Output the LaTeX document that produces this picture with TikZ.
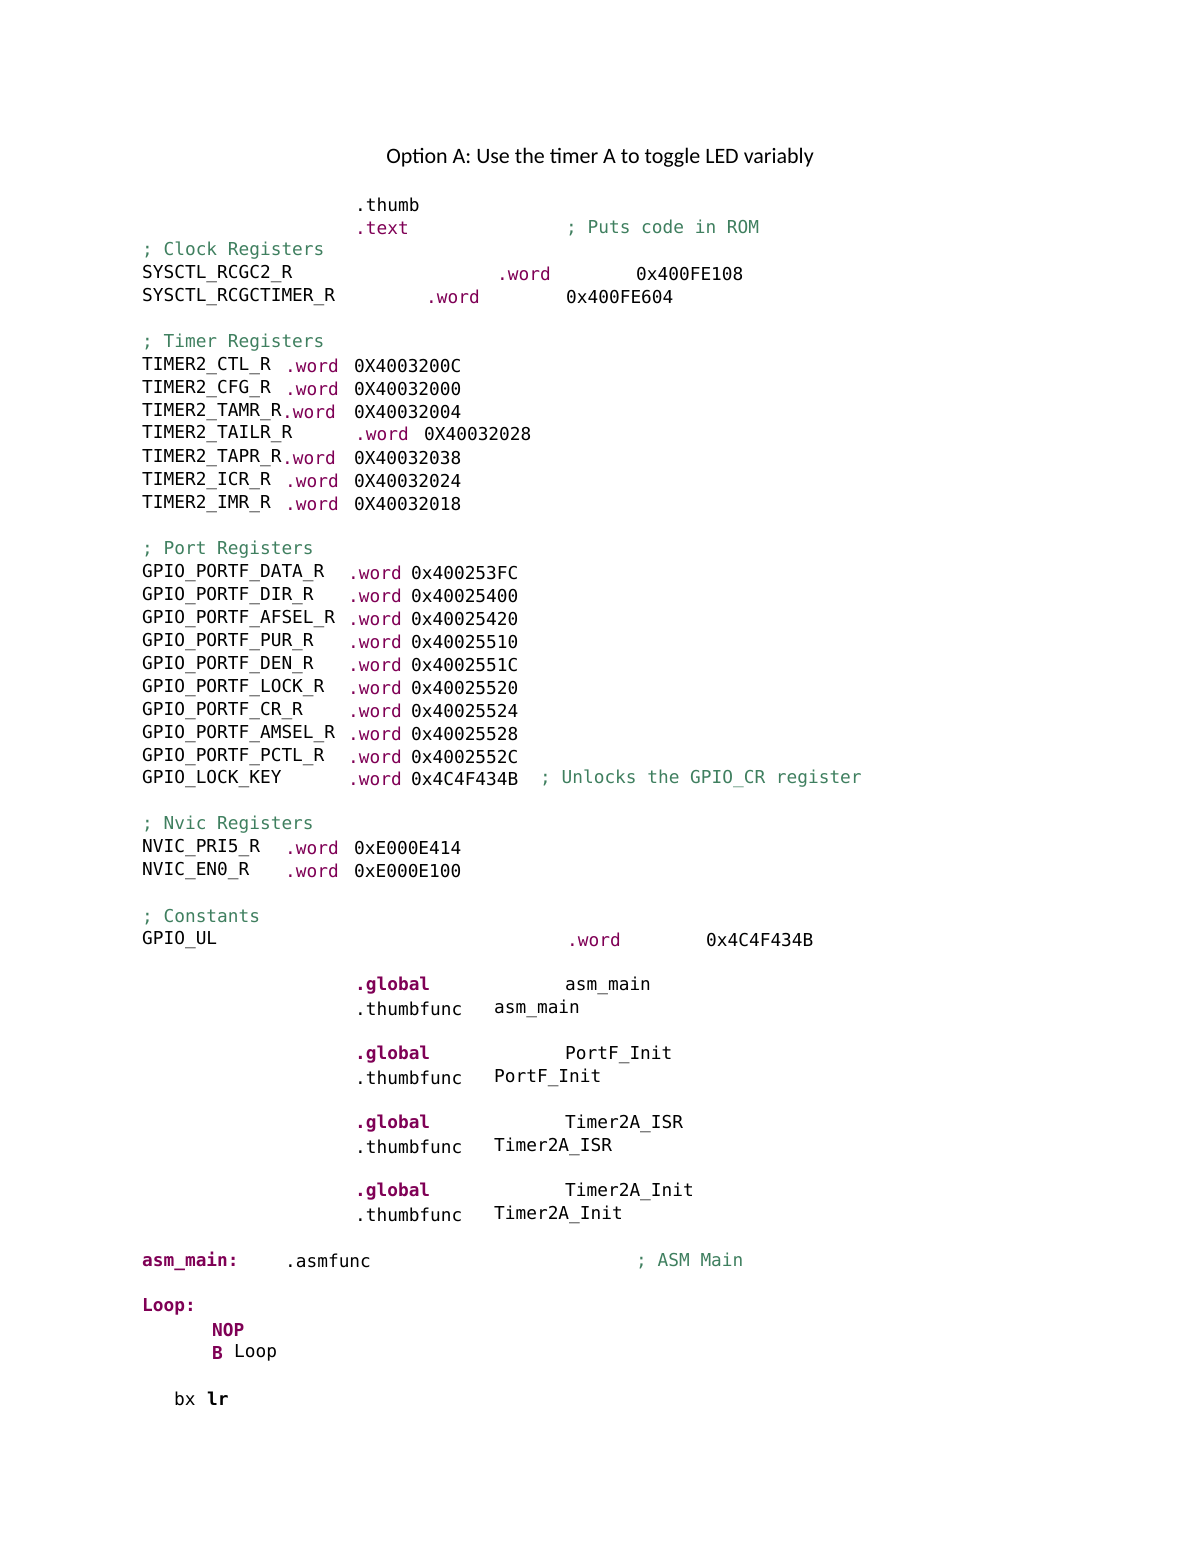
\documentclass[tikz,border=0pt]{standalone}
\usepackage{fontspec}
\setmainfont{Carlito}
\setmonofont{DejaVu Sans Mono}
\definecolor{cgreen}{RGB}{63,127,95}
\definecolor{kw}{RGB}{127,0,85}
\newcounter{tn}
\newcommand{\T}[4][black]{\stepcounter{tn}\node[txt,text=#1] (t\arabic{tn}) at (#2,#3) {#4};}
\begin{document}
\begin{tikzpicture}[x=1pt,y=-1pt,
  txt/.style={anchor=west,inner sep=0pt,font=\fontsize{17.8}{20}\selectfont\ttfamily}]
\useasboundingbox (0,0) rectangle (1200,1553);
\node[inner sep=0pt,font=\fontsize{22}{26}\selectfont] (title) at (600,158) {Option A: Use the timer A to toggle LED variably};
\T{355}{205}{.thumb}
\T[kw]{355}{228}{.text}\T[cgreen]{566}{228}{; Puts code in ROM}
\T[cgreen]{142}{251}{; Clock Registers}
\T{142}{274}{SYSCTL\_RCGC2\_R}\T[kw]{497}{274}{.word}\T{636}{274}{0x400FE108}
\T{142}{297}{SYSCTL\_RCGCTIMER\_R}\T[kw]{426}{297}{.word}\T{566}{297}{0x400FE604}
\T[cgreen]{142}{343}{; Timer Registers}
\T{142}{366}{TIMER2\_CTL\_R}\T[kw]{285}{366}{.word}\T{354}{366}{0X4003200C}
\T{142}{389}{TIMER2\_CFG\_R}\T[kw]{285}{389}{.word}\T{354}{389}{0X40032000}
\T{142}{412}{TIMER2\_TAMR\_R}\T[kw]{282}{412}{.word}\T{354}{412}{0X40032004}
\T{142}{434}{TIMER2\_TAILR\_R}\T[kw]{355}{434}{.word}\T{424}{434}{0X40032028}
\T{142}{458}{TIMER2\_TAPR\_R}\T[kw]{282}{458}{.word}\T{354}{458}{0X40032038}
\T{142}{481}{TIMER2\_ICR\_R}\T[kw]{285}{481}{.word}\T{354}{481}{0X40032024}
\T{142}{504}{TIMER2\_IMR\_R}\T[kw]{285}{504}{.word}\T{354}{504}{0X40032018}
\T[cgreen]{142}{550}{; Port Registers}
\T{142}{573}{GPIO\_PORTF\_DATA\_R}\T[kw]{348}{573}{.word}\T{411}{573}{0x400253FC}
\T{142}{596}{GPIO\_PORTF\_DIR\_R}\T[kw]{348}{596}{.word}\T{411}{596}{0x40025400}
\T{142}{619}{GPIO\_PORTF\_AFSEL\_R}\T[kw]{348}{619}{.word}\T{411}{619}{0x40025420}
\T{142}{642}{GPIO\_PORTF\_PUR\_R}\T[kw]{348}{642}{.word}\T{411}{642}{0x40025510}
\T{142}{665}{GPIO\_PORTF\_DEN\_R}\T[kw]{348}{665}{.word}\T{411}{665}{0x4002551C}
\T{142}{688}{GPIO\_PORTF\_LOCK\_R}\T[kw]{348}{688}{.word}\T{411}{688}{0x40025520}
\T{142}{711}{GPIO\_PORTF\_CR\_R}\T[kw]{348}{711}{.word}\T{411}{711}{0x40025524}
\T{142}{734}{GPIO\_PORTF\_AMSEL\_R}\T[kw]{348}{734}{.word}\T{411}{734}{0x40025528}
\T{142}{757}{GPIO\_PORTF\_PCTL\_R}\T[kw]{348}{757}{.word}\T{411}{757}{0x4002552C}
\T{142}{779}{GPIO\_LOCK\_KEY}\T[kw]{348}{779}{.word}\T{411}{779}{0x4C4F434B}\T[cgreen]{540}{779}{; Unlocks the GPIO\_CR register}
\T[cgreen]{142}{825}{; Nvic Registers}
\T{142}{848}{NVIC\_PRI5\_R}\T[kw]{285}{848}{.word}\T{354}{848}{0xE000E414}
\T{142}{871}{NVIC\_EN0\_R}\T[kw]{285}{871}{.word}\T{354}{871}{0xE000E100}
\T[cgreen]{142}{917}{; Constants}
\T{142}{940}{GPIO\_UL}\T[kw]{567}{940}{.word}\T{706}{940}{0x4C4F434B}
\T[kw]{355}{986}{\bfseries .global}\T{565}{986}{asm\_main}
\T{355}{1009}{.thumbfunc}\T{494}{1009}{asm\_main}
\T[kw]{355}{1055}{\bfseries .global}\T{565}{1055}{PortF\_Init}
\T{355}{1078}{.thumbfunc}\T{494}{1078}{PortF\_Init}
\T[kw]{355}{1124}{\bfseries .global}\T{565}{1124}{Timer2A\_ISR}
\T{355}{1147}{.thumbfunc}\T{494}{1147}{Timer2A\_ISR}
\T[kw]{355}{1192}{\bfseries .global}\T{565}{1192}{Timer2A\_Init}
\T{355}{1215}{.thumbfunc}\T{494}{1215}{Timer2A\_Init}
\T[kw]{142}{1261}{\bfseries asm\_main:}\T{285}{1261}{.asmfunc}\T[cgreen]{636}{1261}{; ASM Main}
\T[kw]{142}{1307}{\bfseries Loop:}
\T[kw]{212}{1330}{\bfseries NOP}
\T[kw]{212}{1353}{\bfseries B}\T{234}{1353}{Loop}
\T{174}{1399}{bx}\T{207}{1399}{\bfseries lr}
\end{tikzpicture}
\end{document}
